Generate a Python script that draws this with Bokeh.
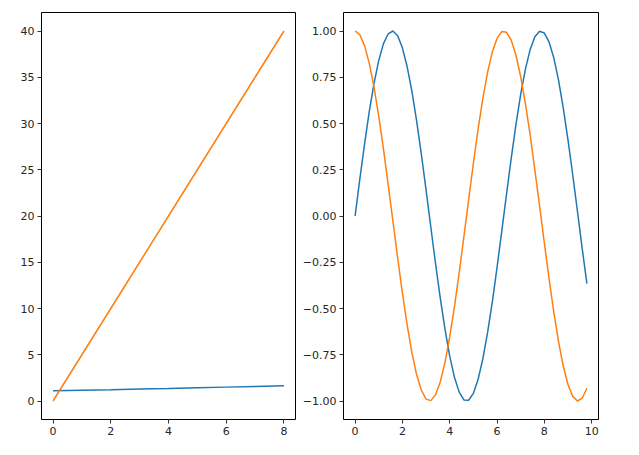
from bokeh.plotting import figure
from bokeh.layouts import row
from bokeh.models import FixedTicker, Range1d
from bokeh.embed import file_html
from bokeh.resources import INLINE

# Left panel data
left_x = [0, 1, 2, 3, 4, 5, 6, 7, 8]
left_blue = [1.1, 1.16, 1.22, 1.29, 1.35, 1.42, 1.5, 1.57, 1.65]
left_orange = [0, 5, 10, 15, 20, 25, 30, 35, 40]
left_xticks = [0, 2, 4, 6, 8]
left_yticks = [0, 5, 10, 15, 20, 25, 30, 35, 40]

# Right panel data
right_x = [round(i * 0.2, 1) for i in range(50)]
right_sin = [0.000, 0.199, 0.389, 0.565, 0.717, 0.841, 0.932, 0.985, 1.000, 0.974,
             0.909, 0.808, 0.675, 0.516, 0.335, 0.141, -0.058, -0.256, -0.443, -0.612,
             -0.757, -0.872, -0.952, -0.994, -0.996, -0.959, -0.883, -0.773, -0.631, -0.465,
             -0.279, -0.083, 0.117, 0.312, 0.494, 0.657, 0.794, 0.899, 0.969, 0.999,
             0.989, 0.941, 0.855, 0.734, 0.585, 0.412, 0.223, 0.025, -0.175, -0.366]
right_cos = [1.000, 0.980, 0.921, 0.825, 0.697, 0.540, 0.362, 0.170, -0.029, -0.227,
             -0.416, -0.589, -0.737, -0.857, -0.942, -0.990, -0.998, -0.967, -0.897, -0.791,
             -0.654, -0.490, -0.307, -0.112, 0.087, 0.284, 0.469, 0.635, 0.776, 0.886,
             0.960, 0.997, 0.993, 0.950, 0.869, 0.754, 0.608, 0.439, 0.248, 0.055,
             -0.146, -0.339, -0.519, -0.679, -0.811, -0.911, -0.975, -1.000, -0.985, -0.931]
right_xticks = [0, 2, 4, 6, 8, 10]
right_yticks = [-1.0, -0.75, -0.5, -0.25, 0.0, 0.25, 0.5, 0.75, 1.0]

BLUE = "#1f77b4"
ORANGE = "#ff7f0e"
FONT = "DejaVu Sans"


def style(p, xticks, yticks, yfmt=None):
    p.outline_line_color = "black"
    p.outline_line_width = 1
    p.xgrid.visible = False
    p.ygrid.visible = False
    p.background_fill_color = "white"
    p.border_fill_color = "white"
    for ax, ticks in ((p.xaxis[0], xticks), (p.yaxis[0], yticks)):
        ax.ticker = FixedTicker(ticks=ticks)
        ax.axis_line_color = None
        ax.major_tick_line_color = "#333333"
        ax.major_tick_in = 0
        ax.major_tick_out = 4
        ax.minor_tick_line_color = None
        ax.major_label_text_font = FONT
        ax.major_label_text_font_size = "11px"
        ax.major_label_text_color = "#262626"
        ax.major_label_standoff = 3
    p.xaxis[0].major_label_overrides = {t: str(t) for t in xticks}
    if yfmt:
        p.yaxis[0].major_label_overrides = {t: yfmt(t) for t in yticks}
    else:
        p.yaxis[0].major_label_overrides = {t: str(t) for t in yticks}


left = figure(output_backend="svg", toolbar_location=None,
              frame_width=254, frame_height=407,
              min_border_left=41, min_border_right=4,
              min_border_top=12, min_border_bottom=30,
              x_range=Range1d(-0.4, 8.4), y_range=Range1d(-2, 42))
left.line(left_x, left_blue, line_color=BLUE, line_width=1.5)
left.line(left_x, left_orange, line_color=ORANGE, line_width=1.5)
style(left, left_xticks, left_yticks)

right = figure(output_backend="svg", toolbar_location=None,
               frame_width=255, frame_height=407,
               min_border_left=39, min_border_right=10,
               min_border_top=12, min_border_bottom=30,
               x_range=Range1d(-0.49, 10.29), y_range=Range1d(-1.1, 1.1))
right.line(right_x, right_sin, line_color=BLUE, line_width=1.5)
right.line(right_x, right_cos, line_color=ORANGE, line_width=1.5)
style(right, right_xticks, right_yticks,
      yfmt=lambda t: ("\u2212" if t < 0 else "") + "%.2f" % abs(t))

layout = row(left, right)
open("out.html", "w").write(file_html(layout, INLINE))
